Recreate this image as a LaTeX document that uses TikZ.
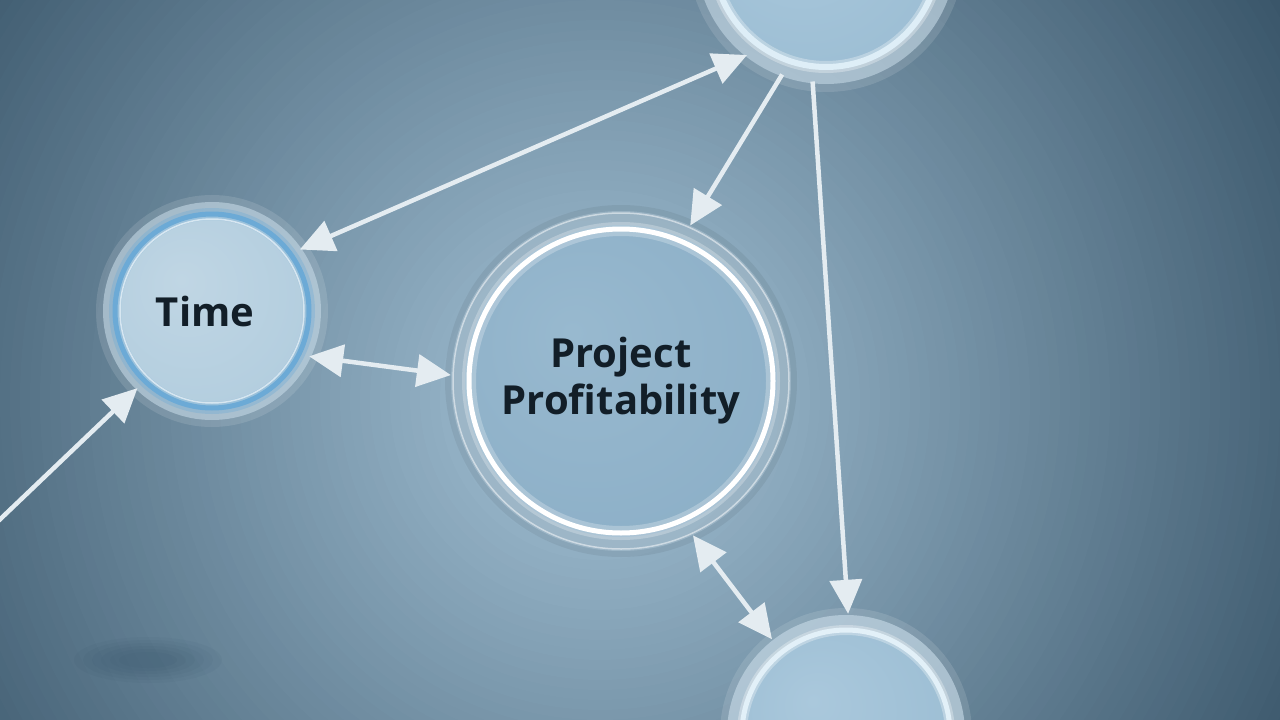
\documentclass[tikz,border=0pt]{standalone}
\usepackage{fontspec}
\setmainfont{Open Sans}
\usetikzlibrary{arrows.meta}
\definecolor{bgin}{RGB}{146,176,196}
\definecolor{bgout}{RGB}{50,78,98}
\definecolor{projin}{RGB}{152,185,207}
\definecolor{projout}{RGB}{134,170,195}
\definecolor{timein}{RGB}{192,214,228}
\definecolor{timeout}{RGB}{170,200,219}
\definecolor{sidein}{RGB}{170,200,220}
\definecolor{sideout}{RGB}{148,184,207}
\definecolor{ringblue}{RGB}{108,170,214}
\definecolor{rimc}{RGB}{196,216,229}
\definecolor{linkc}{RGB}{228,236,241}
\definecolor{txt}{RGB}{18,30,40}
\definecolor{smudge}{RGB}{40,70,92}
\definecolor{topring}{RGB}{222,238,247}
\definecolor{botring}{RGB}{226,240,248}
\pgfdeclareradialshading{projshade}{\pgfpoint{-8bp}{8bp}}{color(0bp)=(projin); color(50bp)=(projout)}
\pgfdeclareradialshading{timeshade}{\pgfpoint{-8bp}{8bp}}{color(0bp)=(timein); color(50bp)=(timeout)}
\pgfdeclareradialshading{sideshade}{\pgfpoint{-8bp}{8bp}}{color(0bp)=(sidein); color(50bp)=(sideout)}
\pgfdeclarelayer{back}
\pgfdeclarelayer{mid}
\pgfsetlayers{back,mid,main}
\tikzset{
  hub/.style={circle, inner sep=0pt, text=txt, align=center,
    font=\bfseries\fontsize{40}{47}\selectfont},
  link/.style={draw=linkc, line width=4.5pt},
  bigtip/.tip={Triangle[length=34pt,width=32pt]},
}
\begin{document}
\begin{tikzpicture}[x=1pt,y=-1pt]
\useasboundingbox (0,0) rectangle (1280,720);
% nodes
\node[hub, minimum size=340pt] (proj) at (621,381) {Project\\Profitability};
\node[hub, minimum size=214pt] (time) at (212,311) {\hspace*{-14pt}Time};
\node[hub, minimum size=256pt] (top) at (826,-46) {};
\node[hub, minimum size=240pt] (bot) at (846,734) {};
\coordinate (src) at (-30,548);
% background
\begin{pgfonlayer}{back}
\begin{scope}
\clip (0,0) rectangle (1280,720);
\foreach \i in {0,...,70} {
  \pgfmathsetmacro\rr{850-\i*10}
  \pgfmathsetmacro\pp{min(100,(850-\rr)/7)}
  \fill[bgin!\pp!bgout] (600,400) circle (\rr);
}
\foreach \k in {1,...,6} {
  \fill[smudge, opacity=.05] (148,660) ellipse ({20+\k*9} and {5+\k*3});
}
\end{scope}
\end{pgfonlayer}
% glass bubbles
\begin{pgfonlayer}{mid}
\begin{scope}
\clip (0,0) rectangle (1280,720);
% project
\fill[black, opacity=.06] (proj.center) circle (176);
\fill[rimc, opacity=.35] (proj.center) circle (170);
\draw[white, opacity=.5, line width=1.5pt] (proj.center) circle (168);
\shade[shading=projshade] (proj.center) circle (156);
\draw[white, opacity=.25, line width=14pt] (proj.center) circle (152);
\draw[white, line width=5pt] (proj.center) circle (152);
% time
\fill[white, opacity=.12] (time.center) circle (116);
\fill[rimc, opacity=.6] (time.center) circle (109);
\shade[shading=timeshade] (time.center) circle (98);
\draw[ringblue, opacity=.35, line width=12pt] (time.center) circle (97);
\draw[ringblue, line width=5pt] (time.center) circle (97);
\draw[white, opacity=.6, line width=1.5pt] (time.center) circle (92);
% top
\fill[white, opacity=.12] (top.center) circle (138);
\fill[rimc, opacity=.6] (top.center) circle (130);
\shade[shading=sideshade] (top.center) circle (114);
\draw[white, opacity=.3, line width=12pt] (top.center) circle (113);
\draw[topring, line width=6pt] (top.center) circle (113);
% bottom
\fill[white, opacity=.12] (bot.center) circle (126);
\fill[rimc, opacity=.65] (bot.center) circle (119);
\shade[shading=sideshade] (bot.center) circle (105);
\draw[white, opacity=.3, line width=10pt] (bot.center) circle (104);
\draw[botring, line width=5pt] (bot.center) circle (104);
\end{scope}
\end{pgfonlayer}
% connectors
\draw[link, bigtip-bigtip] (top.-128.5) -- (time.35.4);
\draw[link, -bigtip] (top.-110.7) -- (proj.66.6);
\draw[link, -bigtip] (top.-96.2) -- (bot.89);
\draw[link, bigtip-bigtip] (time.-25.8) -- (proj.178.7);
\draw[link, bigtip-bigtip] (proj.-65.2) -- (bot.128.2);
\draw[link, -bigtip] (src) -- (time.-134.6);
\end{tikzpicture}
\end{document}
